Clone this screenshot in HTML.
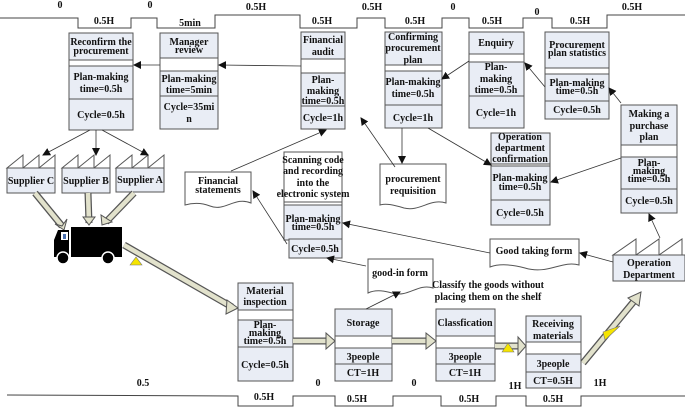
<!DOCTYPE html>
<html><head><meta charset="utf-8"><style>
html,body{margin:0;padding:0;background:#fff}
svg{display:block}
text{font-family:"Liberation Serif",serif;font-weight:bold;font-size:10px;fill:#111;text-anchor:middle}
.b{fill:#e9edf5;stroke:#555;stroke-width:1}
.w{fill:#fff;stroke:#555;stroke-width:1}
.l{stroke:#333;stroke-width:0.8;fill:none}
.tl{stroke:#444;stroke-width:1;fill:none}
</style></head><body>
<svg width="685" height="407" viewBox="0 0 685 407" xmlns="http://www.w3.org/2000/svg">
<defs>
<marker id="a" markerWidth="8" markerHeight="8" refX="7" refY="4" orient="auto" markerUnits="userSpaceOnUse"><path d="M0,0 L8,4 L0,8z" fill="#111"/></marker>
</defs>
<!-- top timeline -->
<polyline class="tl" points="0,18 78,18 78,28 131,28 131,18 157,18 157,28 215,28 215,15 300,15 300,28 357,28 357,18 385,18 385,28 442,28 442,18 469,18 469,28 523,28 523,18 552,18 552,28 607,28 607,15 685,15"/>
<text x="60" y="8">0</text><text x="104" y="24">0.5H</text><text x="150" y="8">0</text><text x="190" y="26">5min</text>
<text x="256" y="10">0.5H</text><text x="322" y="24">0.5H</text><text x="372" y="10">0.5H</text><text x="415" y="24">0.5H</text>
<text x="453" y="10">0</text><text x="492" y="24">0.5H</text><text x="537" y="15">0</text><text x="580" y="24">0.5H</text><text x="632" y="10">0.5H</text>
<!-- bottom timeline -->
<polyline class="tl" points="7,395 238,396 238,406 293,406 293,396 335,396 335,406 393,406 393,396 441,396 441,406 496,406 496,396 526,396 526,406 581,406 581,396 685,396"/>
<text x="143" y="386">0.5</text><text x="318" y="386">0</text><text x="414" y="386">0</text><text x="515" y="389">1H</text><text x="600" y="386">1H</text>
<text x="264" y="400">0.5H</text><text x="357" y="402">0.5H</text><text x="469" y="402">0.5H</text><text x="553" y="402">0.5H</text>

<!-- Reconfirm -->
<rect class="b" x="69" y="33" width="64" height="27"/><rect class="w" x="69" y="60" width="64" height="6"/><rect class="b" x="69" y="66" width="64" height="33"/><rect class="b" x="69" y="99" width="64" height="31"/>
<text x="101" y="45">Reconfirm the</text><text x="101" y="54">procurement</text><text x="101" y="80">Plan-making</text><text x="101" y="92">time=0.5h</text><text x="101" y="118">Cycle=0.5h</text>
<!-- Manager -->
<rect class="b" x="160" y="33" width="58" height="25"/><rect class="w" x="160" y="58" width="58" height="13"/><rect class="b" x="160" y="71" width="58" height="25"/><rect class="b" x="160" y="96" width="58" height="33"/>
<text x="189" y="45">Manager</text><text x="189" y="53">review</text><text x="189" y="82">Plan-making</text><text x="189" y="93">time=5min</text><text x="189" y="110">Cycle=35mi</text><text x="189" y="122">n</text>
<!-- Financial audit -->
<rect class="b" x="301" y="32" width="44" height="27"/><rect class="w" x="301" y="59" width="44" height="14"/><rect class="b" x="301" y="73" width="44" height="33"/><rect class="b" x="301" y="106" width="44" height="23"/>
<text x="323" y="43">Financial</text><text x="323" y="55">audit</text><text x="323" y="83">Plan-</text><text x="323" y="94">making</text><text x="323" y="104">time=0.5h</text><text x="323" y="121">Cycle=1h</text>
<!-- Confirming -->
<rect class="b" x="385" y="32" width="57" height="33"/><rect class="w" x="385" y="65" width="57" height="6"/><rect class="b" x="385" y="71" width="57" height="34"/><rect class="b" x="385" y="105" width="57" height="23"/>
<text x="413" y="40">Confirming</text><text x="413" y="51">procurement</text><text x="413" y="63">plan</text><text x="413" y="85">Plan-making</text><text x="413" y="97">time=0.5h</text><text x="413" y="121">Cycle=1h</text>
<!-- Enquiry -->
<rect class="b" x="469" y="32" width="55" height="22"/><rect class="w" x="469" y="54" width="55" height="8"/><rect class="b" x="469" y="62" width="55" height="34"/><rect class="b" x="469" y="96" width="55" height="32"/>
<text x="496" y="46">Enquiry</text><text x="496" y="70">Plan-</text><text x="496" y="82">making</text><text x="496" y="93">time=0.5h</text><text x="496" y="116">Cycle=1h</text>
<!-- Procurement plan stats -->
<rect class="b" x="545" y="32" width="64" height="36"/><rect class="w" x="545" y="68" width="64" height="6"/><rect class="b" x="545" y="74" width="64" height="27"/><rect class="b" x="545" y="101" width="64" height="18"/>
<text x="577" y="48">Procurement</text><text x="577" y="56">plan statistics</text><text x="577" y="86">Plan-making</text><text x="577" y="94">time=0.5h</text>
<text x="577" y="113">Cycle=0.5h</text>
<!-- Making purchase plan -->
<rect class="b" x="621" y="105" width="56" height="40"/><rect class="w" x="621" y="145" width="56" height="12"/><rect class="b" x="621" y="157" width="56" height="32"/><rect class="b" x="621" y="189" width="56" height="24"/>
<text x="649" y="117">Making a</text><text x="649" y="129">purchase</text><text x="649" y="140">plan</text><text x="649" y="166">Plan-</text><text x="649" y="174">making</text><text x="649" y="182">time=0.5h</text><text x="649" y="204">Cycle=0.5h</text>
<!-- Operation dept confirmation -->
<rect class="b" x="491" y="133" width="59" height="31"/><rect class="w" x="491" y="164" width="59" height="2"/><rect class="b" x="491" y="166" width="59" height="34"/><rect class="b" x="491" y="200" width="59" height="25"/>
<text x="520" y="140">Operation</text><text x="520" y="151">department</text><text x="520" y="162">confirmation</text><text x="520" y="181">Plan-making</text><text x="520" y="190">time=0.5h</text><text x="520" y="216">Cycle=0.5h</text>
<!-- Scanning -->
<rect class="w" x="284" y="152" width="58" height="50"/><rect class="w" x="284" y="202" width="58" height="3"/><rect class="b" x="284" y="205" width="58" height="35"/><rect class="b" x="289" y="239" width="53" height="19"/>
<text x="313" y="163">Scanning code</text><text x="313" y="174">and recording</text><text x="313" y="186">into the</text><text x="313" y="197">electronic system</text><text x="313" y="222">Plan-making</text><text x="313" y="230">time=0.5h</text><text x="315" y="252">Cycle=0.5h</text>
<!-- documents -->
<path class="w" d="M185,172 H251 V203 C235,196 225,212 210,206 C200,202 192,203 185,205 Z"/>
<text x="218" y="184">Financial</text><text x="218" y="193">statements</text>
<path class="w" d="M380,164 H446 V203 C430,198 420,212 404,208 C394,205 386,203 380,205 Z"/>
<text x="413" y="182">procurement</text><text x="413" y="194">requisition</text>
<path class="w" d="M368,259 H433 V288 C418,283 408,298 392,293 C382,290 374,290 368,293 Z"/>
<text x="400" y="276">good-in form</text>
<path class="w" d="M490,239 H579 V265 C562,260 548,275 525,268 C510,264 498,264 490,267 Z"/>
<text x="534" y="254">Good taking form</text>
<text x="488" y="288">Classify the goods without</text><text x="488" y="300">placing them on the shelf</text>
<!-- Operation department factory -->
<path class="w" d="M613,255 L636,239 V255 L659,239 V255 L682,239 V255 Z"/>
<rect class="b" x="613" y="255" width="72" height="26"/>
<text x="649" y="266">Operation</text><text x="649" y="278">Department</text>
<!-- suppliers -->
<g>
<path class="w" d="M7,168 L23,155 V168 L39,155 V168 L55,155 V168 Z"/><rect class="b" x="7" y="168" width="48" height="25"/><text x="31" y="184">Supplier C</text>
<path class="w" d="M62,168 L78,155 V168 L94,155 V168 L110,155 V168 Z"/><rect class="b" x="62" y="168" width="48" height="25"/><text x="86" y="184">Supplier B</text>
<path class="w" d="M116,168 L132,155 V168 L148,155 V168 L164,155 V168 Z"/><rect class="b" x="116" y="168" width="48" height="24"/><text x="140" y="183">Supplier A</text>
</g>
<!-- bottom process boxes -->
<rect class="b" x="238" y="283" width="55" height="27"/><rect class="w" x="238" y="310" width="55" height="10"/><rect class="b" x="238" y="320" width="55" height="27"/><rect class="b" x="238" y="347" width="55" height="34"/>
<text x="265" y="294">Material</text><text x="265" y="305">inspection</text><text x="265" y="328">Plan-</text><text x="265" y="336">making</text><text x="265" y="344">time=0.5h</text><text x="265" y="368">Cycle=0.5h</text>
<rect class="b" x="335" y="309" width="57" height="27"/><rect class="w" x="335" y="336" width="57" height="12"/><rect class="b" x="335" y="348" width="57" height="16"/><rect class="b" x="335" y="364" width="57" height="17"/>
<text x="363" y="326">Storage</text><text x="363" y="360">3people</text><text x="363" y="376">CT=1H</text>
<rect class="b" x="436" y="309" width="59" height="27"/><rect class="w" x="436" y="336" width="59" height="12"/><rect class="b" x="436" y="348" width="59" height="16"/><rect class="b" x="436" y="364" width="59" height="17"/>
<text x="465" y="326">Classfication</text><text x="465" y="360">3people</text><text x="465" y="376">CT=1H</text>
<rect class="b" x="526" y="316" width="55" height="26"/><rect class="w" x="526" y="342" width="55" height="12"/><rect class="b" x="526" y="354" width="55" height="18"/><rect class="b" x="526" y="372" width="55" height="16"/>
<text x="553" y="327">Receiving</text><text x="553" y="339">materials</text><text x="553" y="367">3people</text><text x="553" y="384">CT=0.5H</text>
<!-- thin arrows -->
<line class="l" x1="160" y1="65" x2="134" y2="65" marker-end="url(#a)"/>
<line class="l" x1="301" y1="66" x2="219" y2="65" marker-end="url(#a)"/>
<line class="l" x1="90" y1="130" x2="43" y2="155" marker-end="url(#a)"/>
<line class="l" x1="96" y1="130" x2="96" y2="155" marker-end="url(#a)"/>
<line class="l" x1="102" y1="130" x2="148" y2="155" marker-end="url(#a)"/>
<line class="l" x1="231" y1="171" x2="326" y2="130" marker-end="url(#a)"/>
<line class="l" x1="395" y1="167" x2="361" y2="118" marker-end="url(#a)"/>
<line class="l" x1="402" y1="128" x2="402" y2="163" marker-end="url(#a)"/>
<line class="l" x1="469" y1="61" x2="442" y2="79" marker-end="url(#a)"/>
<line class="l" x1="545" y1="87" x2="525" y2="63" marker-end="url(#a)"/>
<line class="l" x1="621" y1="103" x2="609" y2="88" marker-end="url(#a)"/>
<line class="l" x1="428" y1="128" x2="491" y2="165" marker-end="url(#a)"/>
<line class="l" x1="621" y1="158" x2="551" y2="182" marker-end="url(#a)"/>
<line class="l" x1="287" y1="244" x2="253" y2="191" marker-end="url(#a)"/>
<line class="l" x1="490" y1="253" x2="343" y2="223" marker-end="url(#a)"/>
<line class="l" x1="366" y1="266" x2="327" y2="258" marker-end="url(#a)"/>
<line class="l" x1="366" y1="309" x2="400" y2="292" marker-end="url(#a)"/>
<line class="l" x1="613" y1="262" x2="580" y2="253" marker-end="url(#a)"/>
<line class="l" x1="660" y1="238" x2="649" y2="214" marker-end="url(#a)"/>
<!-- fat arrows -->
<g stroke-linecap="butt" fill="none">
<g stroke="#555" stroke-width="7">
<line x1="35" y1="193" x2="62" y2="226"/><line x1="88" y1="193" x2="89" y2="223"/><line x1="134" y1="193" x2="106" y2="222"/>
<line x1="124" y1="245" x2="232" y2="307"/><line x1="293" y1="341" x2="328" y2="341"/><line x1="392" y1="341" x2="428" y2="341"/>
<line x1="495" y1="346" x2="520" y2="346"/><line x1="583" y1="363" x2="635" y2="300"/>
</g>
<g stroke="#e2e2cc" stroke-width="4.5">
<line x1="35" y1="193" x2="62" y2="226"/><line x1="88" y1="193" x2="89" y2="223"/><line x1="134" y1="193" x2="106" y2="222"/>
<line x1="124" y1="245" x2="232" y2="307"/><line x1="293" y1="341" x2="328" y2="341"/><line x1="392" y1="341" x2="428" y2="341"/>
<line x1="495" y1="346" x2="520" y2="346"/><line x1="583" y1="363" x2="635" y2="300"/>
</g>
</g>
<g fill="#e2e2cc" stroke="#555" stroke-width="1">
<path d="M55,224 L64,230 L67,219 L62,226 Z"/>
<path d="M83,217 L89,225 L95,217 Z"/>
<path d="M101,215 L102,225 L112,222 Z"/>
<path d="M227,300 L238,308 L226,314 Z"/>
<path d="M326,333 L335,341 L326,349 Z"/>
<path d="M426,333 L436,341 L426,349 Z"/>
<path d="M518,337 L526,346 L518,355 Z"/>
<path d="M628,298 L641,292 L639,306 Z"/>
</g>
<!-- yellow triangles -->
<path d="M130,265 L136,257 L142,265 Z" fill="#f5e400" stroke="#777" stroke-width="0.6"/>
<path d="M502,352 L508,343 L514,352 Z" fill="#f5e400" stroke="#777" stroke-width="0.6"/>
<path d="M603,332 L620,326 L605,340 Z" fill="#f5e400" stroke="#777" stroke-width="0.6"/>
<!-- truck -->
<rect x="71" y="227" width="51" height="30" fill="#000"/>
<path d="M54,257 V240 L58,230 H69 V257 Z" fill="#000"/>
<rect x="61" y="232" width="7" height="8" fill="#fff"/>
<rect x="63" y="234" width="3" height="5" fill="#4a70b0"/>
<circle cx="63" cy="258" r="6" fill="#000" stroke="#fff" stroke-width="1.5"/>
<circle cx="108" cy="258" r="6" fill="#000" stroke="#fff" stroke-width="1.5"/>
</svg>
</body></html>
